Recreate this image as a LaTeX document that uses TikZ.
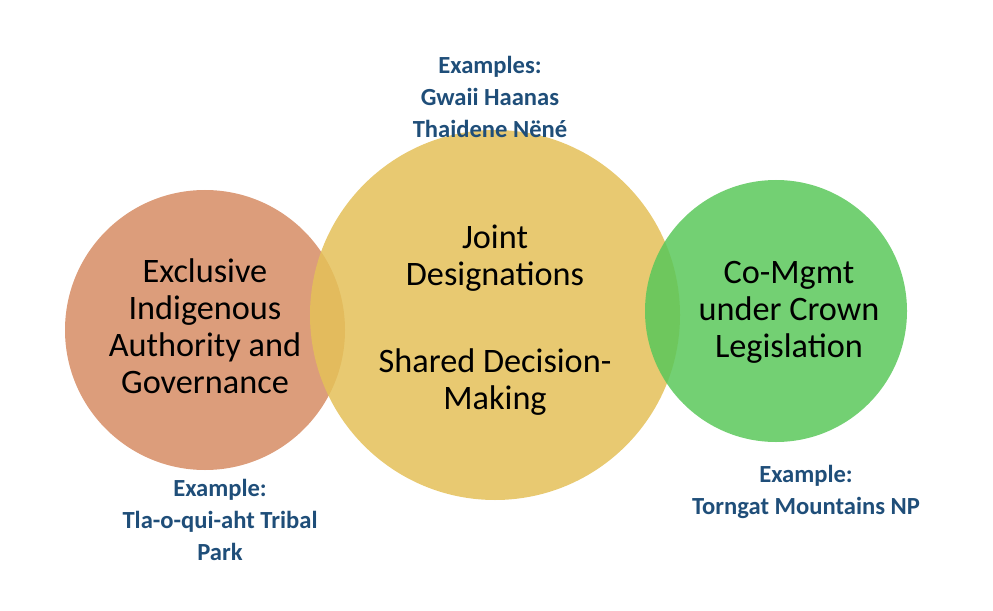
\documentclass[tikz,border=0pt]{standalone}
\usepackage{fontspec}
\setmainfont{Carlito}
\usetikzlibrary{positioning}
\definecolor{rustorange}{RGB}{214,140,100}
\definecolor{goldenrod}{RGB}{228,192,88}
\definecolor{leafgreen}{RGB}{90,200,90}
\definecolor{labelblue}{RGB}{31,78,121}
\begin{document}
\begin{tikzpicture}[x=0.02cm,y=-0.02cm]
    \tikzstyle{disc}=[circle,inner sep=0pt,fill opacity=0.85,text opacity=1,align=center,font=\fontsize{19.5}{21}\selectfont]
    \tikzstyle{example}=[align=center,text=labelblue,font=\bfseries\fontsize{14}{18}\selectfont]

    % Canvas
    \useasboundingbox (0,0) rectangle (993,611);

    % Circles
    \node (exclusive)[disc,fill=rustorange,minimum size=280*0.02cm] at (205,330) {};
    \node (joint)[disc,fill=goldenrod,minimum size=370*0.02cm] at (495,315) {};
    \node (comgmt)[disc,fill=leafgreen,minimum size=262*0.02cm] at (776,311) {};

    % Circle texts
    \node[disc] at (205,326) {Exclusive\\Indigenous\\Authority and\\Governance};
    \node[disc] at (495,258) {Joint\\Designations};
    \node[disc] at (495,382) {Shared Decision-\\Making};
    \node[disc] at (789,312) {Co-Mgmt\\under Crown\\Legislation};

    % Examples
    \node (ex_joint)[example] at (490,97) {Examples:\\Gwaii Haanas\\Thaidene Nëné};
    \node (ex_excl)[example] at (220,520) {Example:\\Tla-o-qui-aht Tribal\\Park};
    \node (ex_comgmt)[example] at (806,492) {Example:\\Torngat Mountains NP};
\end{tikzpicture}
\end{document}
